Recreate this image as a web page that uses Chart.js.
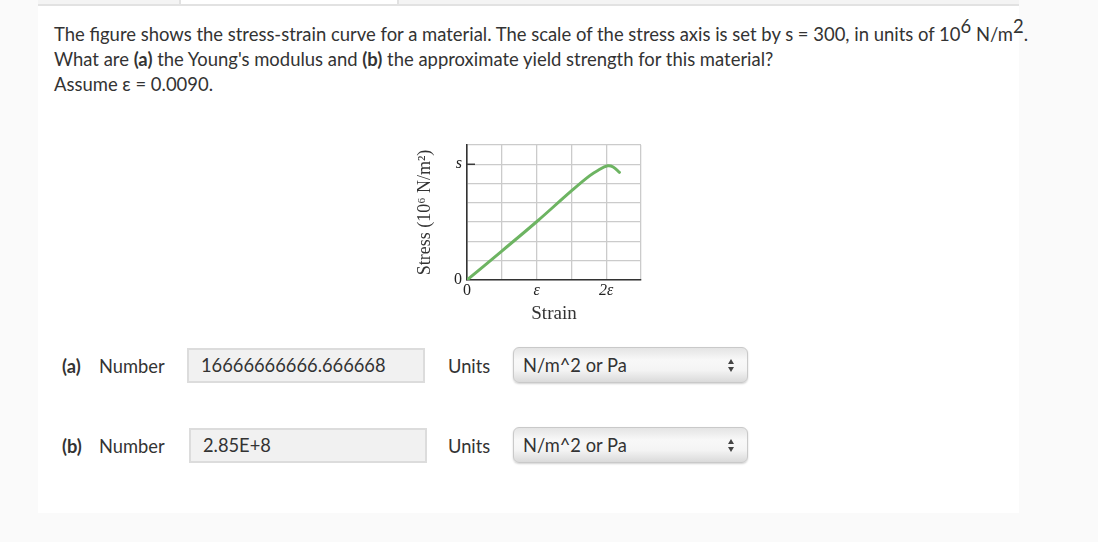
<!DOCTYPE html>
<html>
<head>
<meta charset="utf-8">
<title>Stress-strain</title>
<script src="https://cdn.jsdelivr.net/npm/chart.js@4.4.1/dist/chart.umd.min.js"></script>
<style>
  html, body { margin: 0; padding: 0; }
  body { width: 1098px; height: 542px; background: #fafafa; position: relative; overflow: hidden;
         font-family: Lato, "Open Sans", sans-serif; color: #333; }
  .panel { position: absolute; left: 38px; top: 0; width: 981px; height: 513px; background: #fff; }
  .tabs { position: absolute; left: 38px; top: 0; width: 981px; height: 4px; background: #f4f4f4;
          border-bottom: 2px solid #e2e2e2; }
  .tab { position: absolute; left: 141px; top: 0; width: 216px; height: 4px; background: #fff;
         border-left: 2px solid #e2e2e2; border-right: 2px solid #e2e2e2; }
  .question { position: absolute; left: 54px; top: 22px; font-size: 18.45px; line-height: 25px; white-space: nowrap; }
  .question sup { font-size: 18.45px; line-height: 0; position: relative; top: -1px; }
  .row { position: absolute; left: 62px; height: 36px; font-size: 18.3px; }
  .row span { position: absolute; top: 7px; white-space: nowrap; }
  .row .part { left: 0; font-weight: bold; }
  .row .lbl { left: 37px; }
  .row .units { left: 386px; }
  .field { position: absolute; top: 0; width: 222px; height: 31px; background: #f1f1f1;
           border: 2px solid #dcdcdc; font-size: 18.3px; line-height: 31px; padding-left: 12px; box-sizing: content-box; }
  .select { position: absolute; left: 451px; top: -1px; width: 224px; height: 34px; border: 1px solid #c9c9c9;
            border-radius: 6px; background: linear-gradient(#e4e4e4, #f8f8f8 35%, #f4f4f4 65%, #dadada);
            box-shadow: 0 1px 2px rgba(0,0,0,0.18); font-size: 18.3px; line-height: 34px; padding-left: 9px; }
  .arrows { position: absolute; right: 12px; top: 11px; width: 7px; height: 13px; }
  .arrows:before, .arrows:after { content: ""; position: absolute; left: 0; border-left: 3.5px solid transparent;
            border-right: 3.5px solid transparent; }
  .arrows:before { top: 0; border-bottom: 5px solid #444; }
  .arrows:after { bottom: 0; border-top: 5px solid #444; }
  #wrap { position: absolute; left: 400px; top: 135px; width: 260px; height: 195px; }
</style>
</head>
<body>
<div class="panel"></div>
<div class="tabs"><div class="tab"></div></div>

<div class="question">
  The figure shows the stress-strain curve for a material. The scale of the stress axis is set by s = 300, in units of 10<sup>6</sup> N/m<sup>2</sup>.<br>
  What are <b>(a)</b> the Young's modulus and <b>(b)</b> the approximate yield strength for this material?<br>
  Assume ε = 0.0090.
</div>

<div id="wrap"><canvas id="grafico" width="260" height="195"></canvas></div>

<div class="row" style="top:348px">
  <span class="part">(a)</span><span class="lbl">Number</span>
  <div class="field" style="left:125px">16666666666.666668</div>
  <span class="units">Units</span>
  <div class="select">N/m^2 or Pa<div class="arrows"></div></div>
</div>
<div class="row" style="top:428px">
  <span class="part">(b)</span><span class="lbl">Number</span>
  <div class="field" style="left:127px">2.85E+8</div>
  <span class="units">Units</span>
  <div class="select">N/m^2 or Pa<div class="arrows"></div></div>
</div>

<script>
// strain is given in multiples of epsilon (0.0090), stress in 10^6 N/m^2
const EPSILON = 0.0090;
const S_VALUE = 300;
const strainEps = [0, 0.5, 1.0, 1.5, 1.76, 1.88, 2.02, 2.1, 2.19];
const stress = [0, 75, 151, 231, 270, 284, 296, 293, 279];
const xTickLabels = { 0: '0', 1: 'ε', 2: '2ε' };
const yTickLabels = { 0: '0', 300: 's' };

const serif = '"Liberation Serif", "DejaVu Serif", serif';

// short dark tick on the inside of the stress axis at s
const sTick = {
    id: 'sTick',
    beforeDatasetsDraw(chart) {
        const { ctx, chartArea, scales } = chart;
        const y = scales.y.getPixelForValue(S_VALUE);
        ctx.save();
        ctx.strokeStyle = '#3a3a3a';
        ctx.lineWidth = 1.5;
        ctx.beginPath();
        ctx.moveTo(chartArea.left, y);
        ctx.lineTo(chartArea.left + 8, y);
        ctx.stroke();
        ctx.restore();
    }
};

const ctx = document.getElementById('grafico').getContext('2d');
new Chart(ctx, {
    type: 'line',
    data: {
        datasets: [{
            data: strainEps.map((x, i) => ({ x, y: stress[i] })),
            borderColor: '#6db462',
            borderWidth: 3,
            borderCapStyle: 'round',
            pointRadius: 0,
            tension: 0.4,
            fill: false
        }]
    },
    options: {
        responsive: false,
        animation: false,
        devicePixelRatio: 1,
        layout: { padding: { top: 10, right: 19, left: 0, bottom: 0 } },
        plugins: { legend: { display: false }, tooltip: { enabled: false } },
        scales: {
            x: {
                type: 'linear',
                min: 0,
                max: 2.5,
                afterFit: s => { s.height = 50; s.paddingLeft = 0; s.paddingRight = 0; },
                grid: { color: '#cbcbcb', lineWidth: 1.3, drawTicks: false },
                border: { color: '#333', width: 1.6 },
                ticks: {
                    stepSize: 0.5,
                    autoSkip: false,
                    maxRotation: 0,
                    padding: 1,
                    color: '#222',
                    font: c => ({ family: serif, size: 16, style: c.tick && c.tick.value > 0 ? 'italic' : 'normal' }),
                    callback: v => xTickLabels[v] ?? ''
                },
                title: {
                    display: true,
                    text: 'Strain',
                    color: '#333',
                    font: { family: serif, size: 19 },
                    padding: { top: 0, bottom: 5 }
                }
            },
            y: {
                min: 0,
                max: 350,
                afterFit: s => { s.width = 67; s.paddingTop = 0; s.paddingBottom = 0; },
                grid: { color: '#cbcbcb', lineWidth: 1.3, drawTicks: false },
                border: { color: '#333', width: 1.6 },
                ticks: {
                    stepSize: 50,
                    autoSkip: false,
                    padding: 5,
                    color: '#222',
                    font: c => ({ family: serif, size: 16, style: c.tick && c.tick.value === S_VALUE ? 'italic' : 'normal' }),
                    callback: v => yTickLabels[v] ?? ''
                },
                title: {
                    display: true,
                    text: 'Stress (10⁶ N/m²)',
                    color: '#333',
                    font: { family: serif, size: 18 },
                    padding: { top: 14, bottom: 0 }
                }
            }
        }
    },
    plugins: [sTick]
});
</script>
</body>
</html>
